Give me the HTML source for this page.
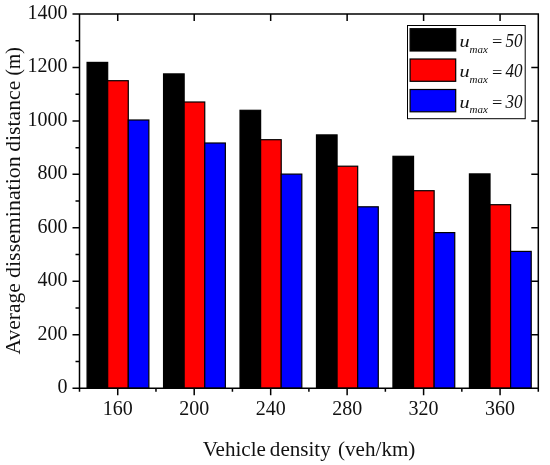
<!DOCTYPE html>
<html><head><meta charset="utf-8"><style>
html,body{margin:0;padding:0;background:#fff;}
body{width:550px;height:465px;overflow:hidden;}
svg{display:block;}
.t{font-family:"Liberation Serif",serif;font-size:20px;fill:#111;}
.lg{font-family:"Liberation Serif",serif;font-style:italic;font-size:17.6px;fill:#111;}
.sub{font-size:11px;}
.eq{font-family:"Liberation Serif",serif;font-size:17px;fill:#111;}
.num{font-size:19px;}
</style></head><body>
<svg width="550" height="465" viewBox="0 0 550 465">
<rect x="87.08" y="62.40" width="20.60" height="325.80" fill="#000000" stroke="#000" stroke-width="1.2"/>
<rect x="107.68" y="80.70" width="20.60" height="307.50" fill="#ff0000" stroke="#000" stroke-width="1.2"/>
<rect x="128.28" y="120.00" width="20.60" height="268.20" fill="#0000ff" stroke="#000" stroke-width="1.2"/>
<rect x="163.55" y="73.90" width="20.60" height="314.30" fill="#000000" stroke="#000" stroke-width="1.2"/>
<rect x="184.15" y="102.00" width="20.60" height="286.20" fill="#ff0000" stroke="#000" stroke-width="1.2"/>
<rect x="204.75" y="143.00" width="20.60" height="245.20" fill="#0000ff" stroke="#000" stroke-width="1.2"/>
<rect x="240.02" y="110.30" width="20.60" height="277.90" fill="#000000" stroke="#000" stroke-width="1.2"/>
<rect x="260.62" y="139.70" width="20.60" height="248.50" fill="#ff0000" stroke="#000" stroke-width="1.2"/>
<rect x="281.22" y="174.10" width="20.60" height="214.10" fill="#0000ff" stroke="#000" stroke-width="1.2"/>
<rect x="316.48" y="134.90" width="20.60" height="253.30" fill="#000000" stroke="#000" stroke-width="1.2"/>
<rect x="337.08" y="166.20" width="20.60" height="222.00" fill="#ff0000" stroke="#000" stroke-width="1.2"/>
<rect x="357.68" y="206.80" width="20.60" height="181.40" fill="#0000ff" stroke="#000" stroke-width="1.2"/>
<rect x="392.95" y="156.30" width="20.60" height="231.90" fill="#000000" stroke="#000" stroke-width="1.2"/>
<rect x="413.55" y="190.70" width="20.60" height="197.50" fill="#ff0000" stroke="#000" stroke-width="1.2"/>
<rect x="434.15" y="232.60" width="20.60" height="155.60" fill="#0000ff" stroke="#000" stroke-width="1.2"/>
<rect x="469.42" y="173.90" width="20.60" height="214.30" fill="#000000" stroke="#000" stroke-width="1.2"/>
<rect x="490.02" y="204.70" width="20.60" height="183.50" fill="#ff0000" stroke="#000" stroke-width="1.2"/>
<rect x="510.62" y="251.40" width="20.60" height="136.80" fill="#0000ff" stroke="#000" stroke-width="1.2"/>
<path d="M72.5,14.0H538.3V388.2H72.5 M79.5,14.0V391.7 M538.3,388.2V391.7 M75.5,361.47H79.5 M72.5,334.74H79.5 M531.3,334.74H538.3 M75.5,308.01H79.5 M72.5,281.29H79.5 M531.3,281.29H538.3 M75.5,254.56H79.5 M72.5,227.83H79.5 M531.3,227.83H538.3 M75.5,201.10H79.5 M72.5,174.37H79.5 M531.3,174.37H538.3 M75.5,147.64H79.5 M72.5,120.91H79.5 M531.3,120.91H538.3 M75.5,94.19H79.5 M72.5,67.46H79.5 M531.3,67.46H538.3 M75.5,40.73H79.5 M117.73,388.2V395.2 M117.73,14.0V21.0 M194.20,388.2V395.2 M194.20,14.0V21.0 M155.97,388.2V391.7 M270.67,388.2V395.2 M270.67,14.0V21.0 M232.43,388.2V391.7 M347.13,388.2V395.2 M347.13,14.0V21.0 M308.90,388.2V391.7 M423.60,388.2V395.2 M423.60,14.0V21.0 M385.37,388.2V391.7 M500.07,388.2V395.2 M500.07,14.0V21.0 M461.83,388.2V391.7" fill="none" stroke="#000" stroke-width="1.5"/>
<text x="67.5" y="393.00" text-anchor="end" class="t">0</text>
<text x="67.5" y="339.54" text-anchor="end" class="t">200</text>
<text x="67.5" y="286.09" text-anchor="end" class="t">400</text>
<text x="67.5" y="232.63" text-anchor="end" class="t">600</text>
<text x="67.5" y="179.17" text-anchor="end" class="t">800</text>
<text x="67.5" y="125.71" text-anchor="end" class="t">1000</text>
<text x="67.5" y="72.26" text-anchor="end" class="t">1200</text>
<text x="67.5" y="18.80" text-anchor="end" class="t">1400</text>
<text x="117.73" y="415" text-anchor="middle" class="t">160</text>
<text x="194.20" y="415" text-anchor="middle" class="t">200</text>
<text x="270.67" y="415" text-anchor="middle" class="t">240</text>
<text x="347.13" y="415" text-anchor="middle" class="t">280</text>
<text x="423.60" y="415" text-anchor="middle" class="t">320</text>
<text x="500.07" y="415" text-anchor="middle" class="t">360</text>
<text transform="translate(202.64,456) scale(1.055,1)" class="t">Vehicle</text>
<text transform="translate(269.84,456) scale(1.055,1)" class="t">density</text>
<text transform="translate(338.05,456) scale(1.055,1)" class="t">(veh/km)</text>
<text transform="translate(19.8,354.38) rotate(-90) scale(1.075,1)" class="t">Average</text>
<text transform="translate(19.8,277.89) rotate(-90) scale(1.094,1)" class="t">dissemination</text>
<text transform="translate(19.8,151.79) rotate(-90) scale(1.086,1)" class="t">distance</text>
<text transform="translate(19.8,75.47) rotate(-90) scale(0.974,1)" class="t">(m)</text>
<rect x="407.5" y="25.5" width="117.7" height="93.2" fill="#fff" stroke="#000" stroke-width="1"/>
<rect x="410.1" y="28.700000000000003" width="45.599999999999994" height="22.3" fill="#000000" stroke="#000" stroke-width="1.2"/>
<text transform="translate(459.6,46.7) scale(1.15,1)" class="lg">u</text>
<text x="469.6" y="52.6" class="lg sub">max</text>
<text transform="translate(492.0,47.3) scale(1.08,1)" class="eq">=</text>
<text transform="translate(505.4,46.7) scale(0.9,1)" class="lg num">50</text>
<rect x="410.1" y="59.0" width="45.599999999999994" height="22.3" fill="#ff0000" stroke="#000" stroke-width="1.2"/>
<text transform="translate(459.6,77.0) scale(1.15,1)" class="lg">u</text>
<text x="469.6" y="82.9" class="lg sub">max</text>
<text transform="translate(492.0,77.6) scale(1.08,1)" class="eq">=</text>
<text transform="translate(505.4,77.0) scale(0.9,1)" class="lg num">40</text>
<rect x="410.1" y="89.5" width="45.599999999999994" height="22.3" fill="#0000ff" stroke="#000" stroke-width="1.2"/>
<text transform="translate(459.6,107.5) scale(1.15,1)" class="lg">u</text>
<text x="469.6" y="113.4" class="lg sub">max</text>
<text transform="translate(492.0,108.1) scale(1.08,1)" class="eq">=</text>
<text transform="translate(505.4,107.5) scale(0.9,1)" class="lg num">30</text>
</svg>
</body></html>
